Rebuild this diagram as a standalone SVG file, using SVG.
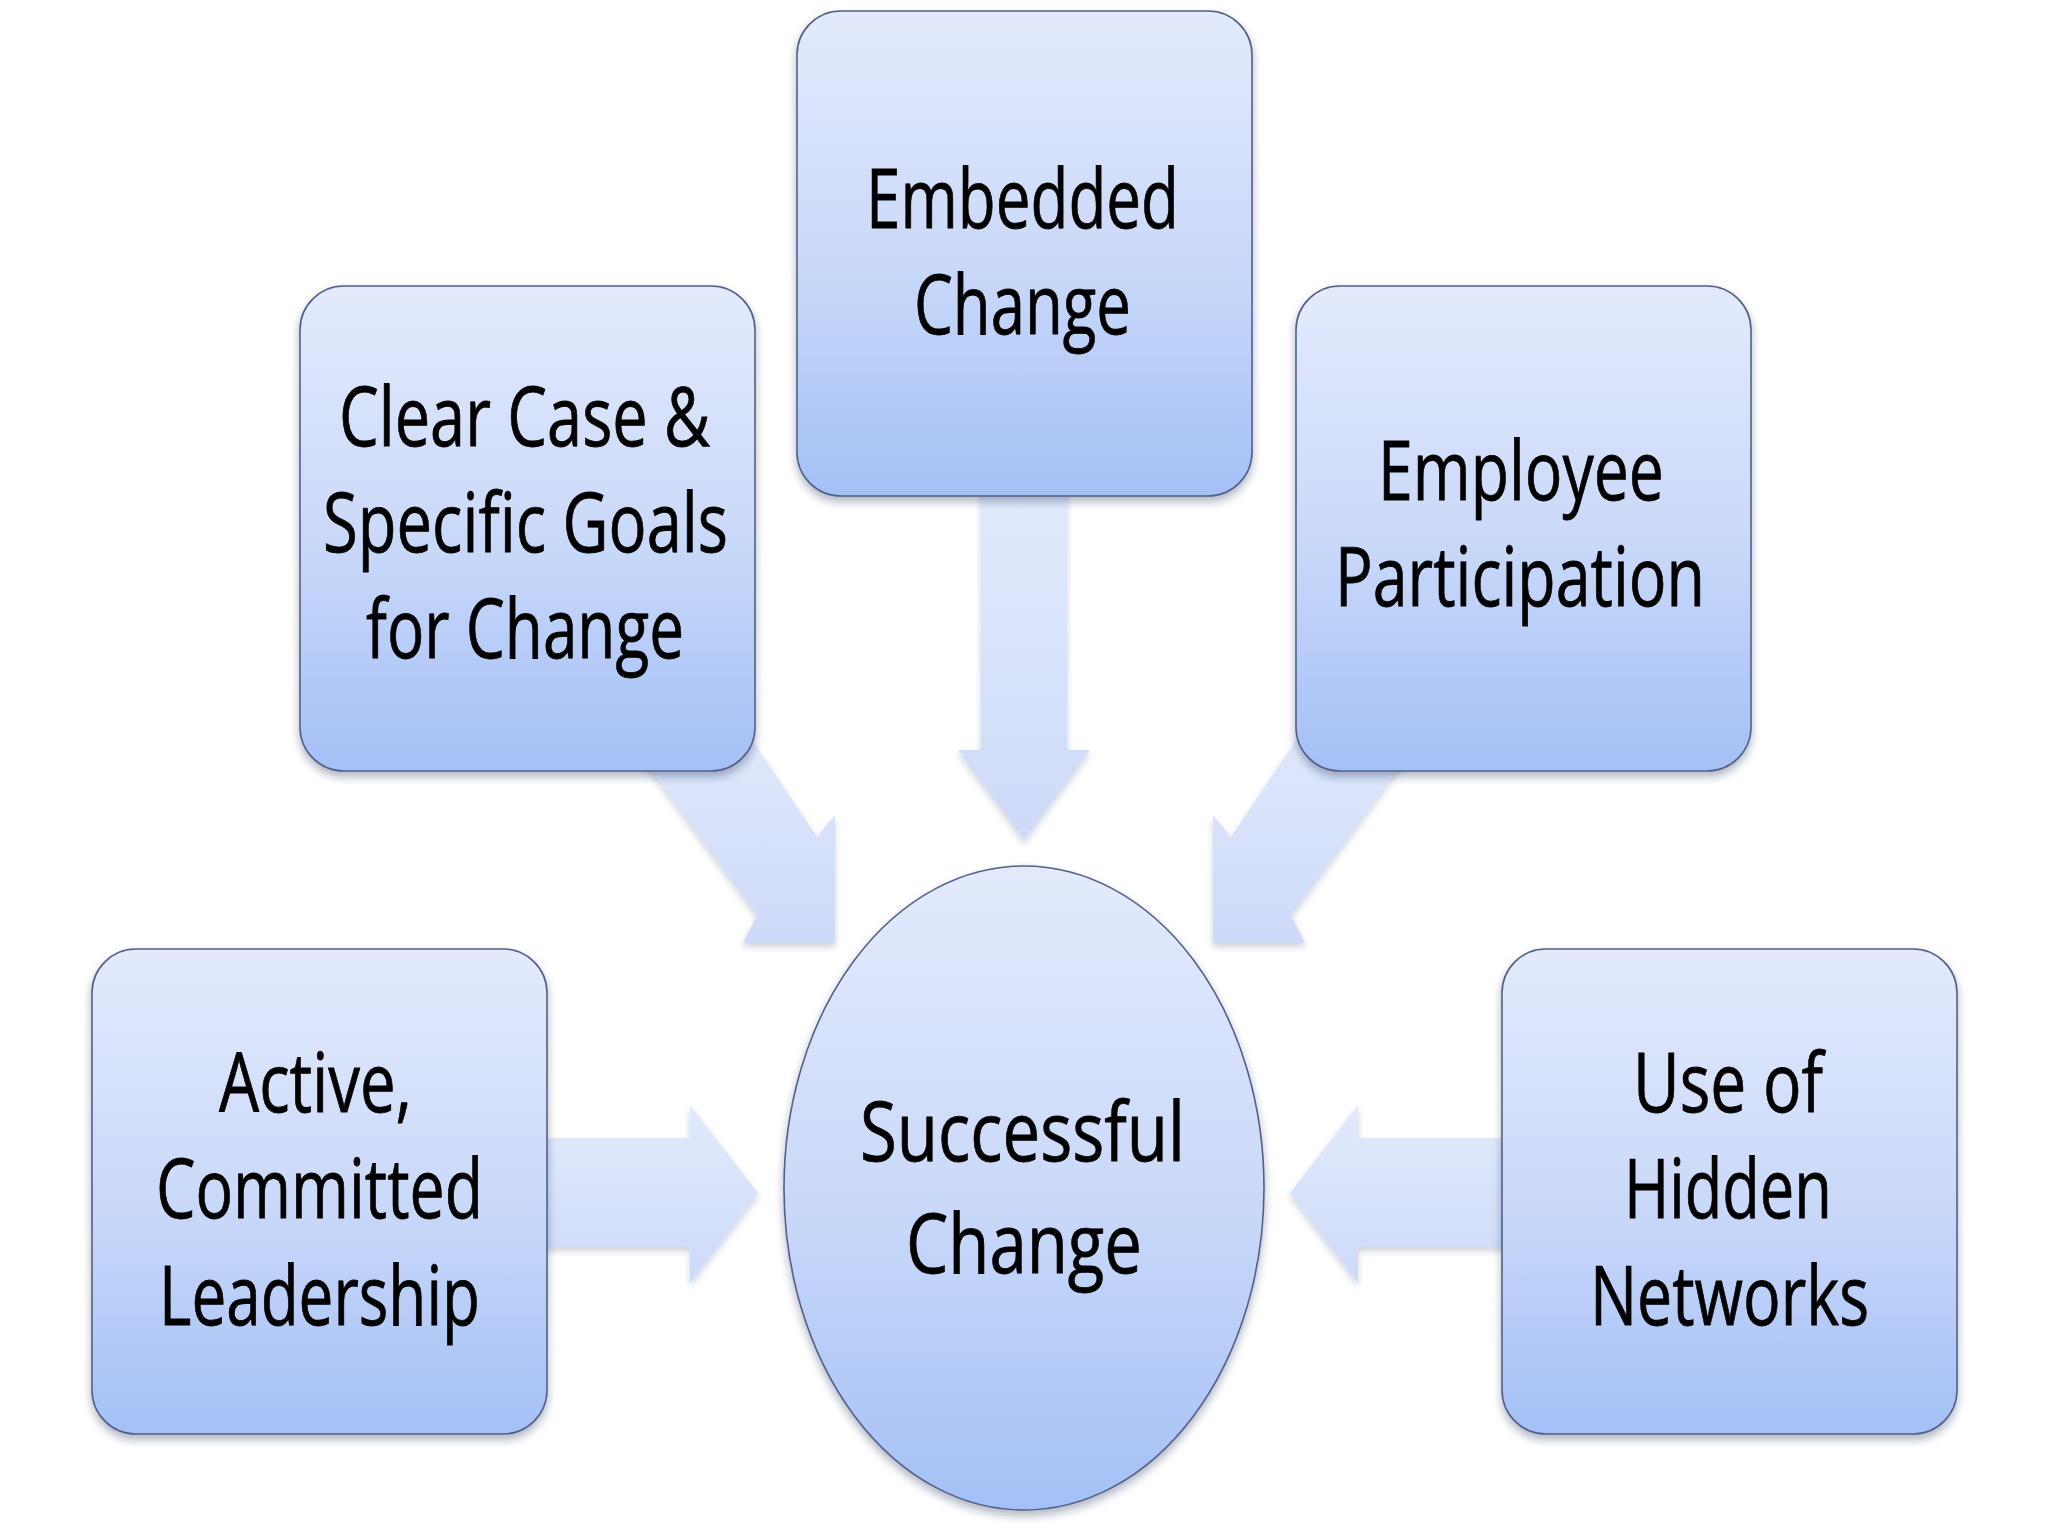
<svg xmlns="http://www.w3.org/2000/svg" width="2048" height="1536" viewBox="0 0 2048 1536">
<defs>
<linearGradient id="gBox" x1="0" y1="0" x2="0" y2="1">
<stop offset="0" stop-color="#e3eafc"/>
<stop offset="0.5" stop-color="#cbdaf9"/>
<stop offset="1" stop-color="#a4c0f6"/>
</linearGradient>
<linearGradient id="gArrow" x1="0" y1="0" x2="0" y2="1">
<stop offset="0" stop-color="#e2eafc"/>
<stop offset="1" stop-color="#cddaf8"/>
</linearGradient>
<filter id="sh" x="-10%" y="-10%" width="120%" height="125%">
<feDropShadow dx="0" dy="5" stdDeviation="4" flood-color="#1a2a50" flood-opacity="0.35"/>
</filter>
<filter id="shA" x="-10%" y="-10%" width="120%" height="125%">
<feDropShadow dx="0" dy="4" stdDeviation="3" flood-color="#2a3a60" flood-opacity="0.22"/>
</filter>
</defs>
<style>
.box{fill:url(#gBox);stroke:#52618a;stroke-width:1.6;filter:url(#sh)}
.arr{fill:url(#gArrow);filter:url(#shA)}
.t{font-family:"Open Sans","Liberation Sans",sans-serif;font-size:82px;fill:#000;stroke:#000;stroke-width:0.8px}
</style>
<rect width="2048" height="1536" fill="#ffffff"/>
<g id="connectors">
<polygon class="arr" points="600,700 757,915 743,943 835,943 835,815 817,837 725,700"/>
<polygon class="arr" points="1448,700 1291,915 1305,943 1213,943 1213,815 1231,837 1323,700"/>
<polygon class="arr" points="981,490 1067,490 1067,750 1090,750 1024,840 958,750 981,750"/>
<polygon class="arr" points="540,1138 690,1138 690,1105 758,1193 690,1283 690,1247 540,1247"/>
<polygon class="arr" points="1508,1138 1358,1138 1358,1105 1290,1193 1358,1283 1358,1247 1508,1247"/>
</g>
<g id="embedded">
<rect class="box" x="797" y="11" width="455" height="485" rx="44"/>
<text class="t" x="866" y="228" textLength="313" lengthAdjust="spacingAndGlyphs">Embedded</text>
<text class="t" x="914" y="334" textLength="217" lengthAdjust="spacingAndGlyphs">Change</text>
</g>
<g id="clearcase">
<rect class="box" x="300" y="286" width="455" height="485" rx="44"/>
<text class="t" x="339" y="446" textLength="371" lengthAdjust="spacingAndGlyphs">Clear Case &amp;</text>
<text class="t" x="323" y="552" textLength="405" lengthAdjust="spacingAndGlyphs">Specific Goals</text>
<text class="t" x="366" y="658" textLength="318" lengthAdjust="spacingAndGlyphs">for Change</text>
</g>
<g id="employee">
<rect class="box" x="1296" y="286" width="455" height="485" rx="44"/>
<text class="t" x="1378" y="500" textLength="286" lengthAdjust="spacingAndGlyphs">Employee</text>
<text class="t" x="1335" y="606" textLength="370" lengthAdjust="spacingAndGlyphs">Participation</text>
</g>
<g id="active">
<rect class="box" x="92" y="949" width="455" height="485" rx="44"/>
<text class="t" x="219" y="1112" textLength="193" lengthAdjust="spacingAndGlyphs">Active,</text>
<text class="t" x="156" y="1218" textLength="327" lengthAdjust="spacingAndGlyphs">Committed</text>
<text class="t" x="159" y="1325" textLength="321" lengthAdjust="spacingAndGlyphs">Leadership</text>
</g>
<g id="hidden">
<rect class="box" x="1502" y="949" width="455" height="485" rx="44"/>
<text class="t" x="1633" y="1112" textLength="190" lengthAdjust="spacingAndGlyphs">Use of</text>
<text class="t" x="1624" y="1218" textLength="208" lengthAdjust="spacingAndGlyphs">Hidden</text>
<text class="t" x="1590" y="1325" textLength="279" lengthAdjust="spacingAndGlyphs">Networks</text>
</g>
<g id="successful">
<ellipse class="box" cx="1024" cy="1188" rx="240" ry="322"/>
<text class="t" x="860" y="1161" textLength="325" lengthAdjust="spacingAndGlyphs">Successful</text>
<text class="t" x="906" y="1273" textLength="236" lengthAdjust="spacingAndGlyphs">Change</text>
</g>
</svg>
